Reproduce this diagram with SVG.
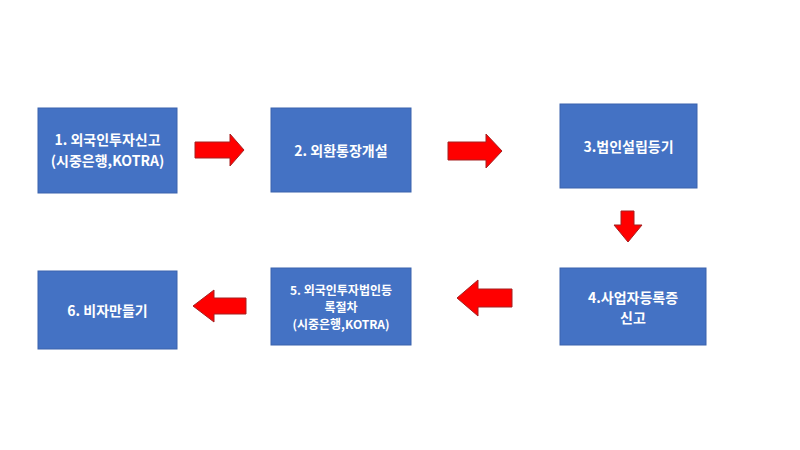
<svg xmlns="http://www.w3.org/2000/svg" width="800" height="450" viewBox="0 0 800 450">
<style>
.b{fill:#4472C4;stroke:#3A63AD;stroke-width:1}
.t{fill:#fff;font-family:"Noto Sans CJK KR","Noto Sans",sans-serif;font-weight:bold;font-size:14px;text-anchor:middle}
.s{font-size:12px}
.a{fill:#FF0000;stroke:#A52020;stroke-width:1}
</style>
<rect width="800" height="450" fill="#fff"/>
<g id="n1"><rect class="b" x="38" y="108" width="139" height="85"/><text class="t" x="107.5" y="145">1. 외국인투자신고</text><text class="t" x="107.5" y="166">(시중은행,KOTRA)</text></g>
<g id="n2"><rect class="b" x="271" y="108" width="140" height="84"/><text class="t" x="341" y="156">2. 외환통장개설</text></g>
<g id="n3"><rect class="b" x="560" y="104" width="137" height="84"/><text class="t" x="628.5" y="152">3.법인설립등기</text></g>
<g id="n4"><rect class="b" x="560" y="268" width="146" height="77"/><text class="t" x="633" y="303">4.사업자등록증</text><text class="t" x="633" y="323">신고</text></g>
<g id="n5"><rect class="b" x="271" y="268" width="140" height="77"/><text class="t s" x="341" y="295">5. 외국인투자법인등</text><text class="t s" x="341" y="312">록절차</text><text class="t s" x="341" y="329">(시중은행,KOTRA)</text></g>
<g id="n6"><rect class="b" x="38" y="271" width="139" height="78"/><text class="t" x="107.5" y="316">6. 비자만들기</text></g>
<g id="connectors">
<polygon class="a" points="195,142 230,142 230,134 244,150 230,166 230,158 195,158"/>
<polygon class="a" points="448,142 486,142 486,134 502,151 486,168 486,160 448,160"/>
<polygon class="a" points="621,211 634,211 634,225 642,225 628,242 614,225 621,225"/>
<polygon class="a" points="512,289 478,289 478,280 457,298 478,316 478,307 512,307"/>
<polygon class="a" points="246,298 214,298 214,290 193,306 214,322 214,314 246,314"/>
</g>
</svg>
